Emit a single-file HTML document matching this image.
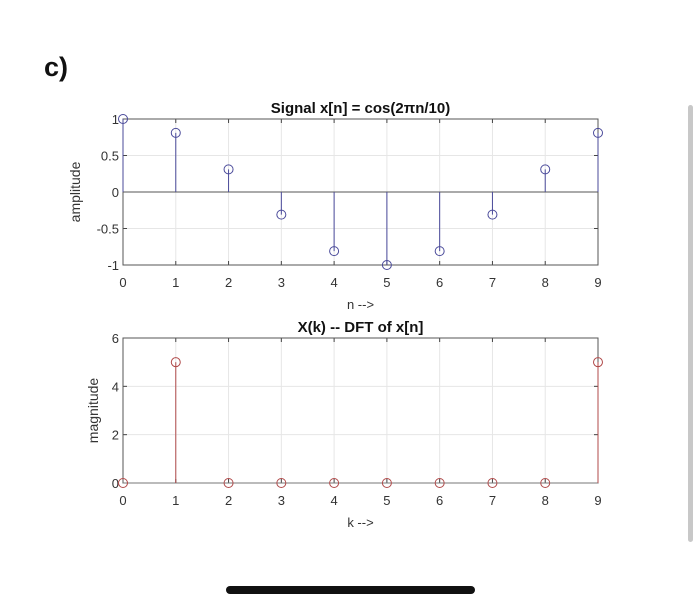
<!DOCTYPE html>
<html><head><meta charset="utf-8"><style>
body{margin:0;background:#fff;width:700px;height:609px;overflow:hidden;font-family:"Liberation Sans",sans-serif}
</style></head><body>
<svg id="c" width="700" height="609" xmlns="http://www.w3.org/2000/svg">
<text x="44" y="76" font-size="27" font-weight="bold" fill="#111">c)</text>
<rect x="688" y="105" width="5" height="437" rx="2.5" fill="#c8c8c8"/>
<rect x="226" y="586" width="249" height="8" rx="4" fill="#111"/>
</svg>
<script>
const nVals=[0,1,2,3,4,5,6,7,8,9];
const xSignal=[1,0.81,0.31,-0.31,-0.81,-1,-0.81,-0.31,0.31,0.81];
const xMag=[0,5,0,0,0,0,0,0,0,5];
const yTicksTop=[-1,-0.5,0,0.5,1];
const yTickLabelsTop=["-1","-0.5","0","0.5","1"];
const yTicksBot=[0,2,4,6];
const svg=document.getElementById('c');
const NS='http://www.w3.org/2000/svg';
function el(t,a,p){const e=document.createElementNS(NS,t);for(const k in a)e.setAttribute(k,a[k]);(p||svg).appendChild(e);return e;}
function plot(o){
  const L=123,R=598,T=o.top,B=o.bottom;
  const xs=v=>L+(v-0)/(9-0)*(R-L);
  const ys=v=>B-(v-o.ymin)/(o.ymax-o.ymin)*(B-T);
  const g=el('g',{});
  
  
  el('rect',{x:L,y:T,width:R-L,height:B-T,fill:'#fff'},g);
  nVals.forEach(n=>{const l=el('line',{x1:xs(n),x2:xs(n),y1:T,y2:B,stroke:'#e6e6e6','stroke-width':1},g);
    const t=el('text',{x:xs(n),y:B+22,'font-size':13,'text-anchor':'middle',fill:'#333'},g);t.textContent=n;
    el('line',{x1:xs(n),x2:xs(n),y1:B,y2:B-4,stroke:'#444'},g);el('line',{x1:xs(n),x2:xs(n),y1:T,y2:T+4,stroke:'#444'},g);});
  o.yt.forEach((v,i)=>{const l=el('line',{x1:L,x2:R,y1:ys(v),y2:ys(v),stroke:'#e6e6e6'},g);
    const t=el('text',{x:L-4,y:ys(v)+5,'font-size':13,'text-anchor':'end',fill:'#333'},g);t.textContent=o.yl[i];
    el('line',{x1:L,x2:L+4,y1:ys(v),y2:ys(v),stroke:'#444'},g);el('line',{x1:R,x2:R-4,y1:ys(v),y2:ys(v),stroke:'#444'},g);});
  el('rect',{x:L,y:T,width:R-L,height:B-T,fill:'none',stroke:'#555','stroke-width':1},g);
  el('line',{x1:L,x2:R,y1:ys(0),y2:ys(0),stroke:o.base,'stroke-width':1},g);
  o.data.forEach((v,i)=>{const s=el('line',{x1:xs(nVals[i]),x2:xs(nVals[i]),y1:ys(0),y2:ys(v),stroke:o.color,'stroke-width':1},g);
    const c=el('circle',{cx:xs(nVals[i]),cy:ys(v),r:4.5,fill:'none',stroke:o.color,'stroke-width':1},g);});
  const tt=el('text',{x:(L+R)/2,y:T-6,'font-size':15,'font-weight':'bold','text-anchor':'middle',fill:'#111'},g);tt.textContent=o.title;
  const xl=el('text',{x:(L+R)/2,y:B+44,'font-size':13,'text-anchor':'middle',fill:'#333'},g);xl.textContent=o.xlabel;
  const yl=el('text',{x:0,y:0,'font-size':14,'text-anchor':'middle',fill:'#333',transform:`translate(${o.ylx},${(T+B)/2}) rotate(-90)`},g);yl.textContent=o.ylabel;
}
plot({name:'signal-plot',top:119,bottom:265,ymin:-1,ymax:1,yt:yTicksTop,yl:yTickLabelsTop,data:xSignal,color:'#4a4a9a',base:'#555',title:'Signal x[n] = cos(2\u03c0n/10)',xlabel:'n -->',ylabel:'amplitude',ylx:80});
plot({name:'dft-plot',top:338,bottom:483,ymin:0,ymax:6,yt:yTicksBot,yl:yTicksBot.map(String),data:xMag,color:'#b04a4a',base:'#777',title:'X(k) -- DFT of x[n]',xlabel:'k -->',ylabel:'magnitude',ylx:98});
</script>
</body></html>
